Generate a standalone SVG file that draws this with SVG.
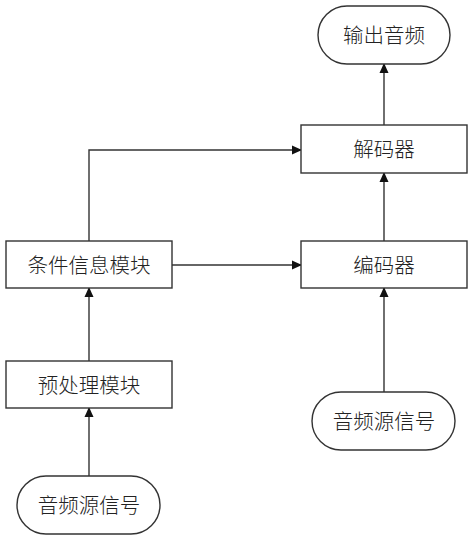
<svg xmlns="http://www.w3.org/2000/svg" width="474" height="541" viewBox="0 0 474 541">
<style>
.n{fill:#fff;stroke:#333;stroke-width:1.4}
.t{font-family:"Liberation Sans","Noto Sans CJK SC",sans-serif;font-size:20.5px;font-weight:300;fill:#222;text-anchor:middle;dominant-baseline:central}
.c{fill:none;stroke:#333;stroke-width:1.4}
</style>
<defs>
<marker id="a" markerWidth="10" markerHeight="10" refX="9" refY="5" orient="auto" markerUnits="userSpaceOnUse">
<path d="M0,0.5 L10,5 L0,9.5 Z" fill="#111"/>
</marker>
</defs>
<rect width="474" height="541" fill="#fff"/>
<g id="connectors">
<path class="c" d="M384,125 V64" marker-end="url(#a)"/>
<path class="c" d="M384,241 V173" marker-end="url(#a)"/>
<path class="c" d="M89,241 V150 H301" marker-end="url(#a)"/>
<path class="c" d="M172,265 H301" marker-end="url(#a)"/>
<path class="c" d="M89,361 V288" marker-end="url(#a)"/>
<path class="c" d="M89,476 V408" marker-end="url(#a)"/>
<path class="c" d="M384,392 V288" marker-end="url(#a)"/>
</g>
<g id="output"><rect class="n" x="318" y="6" width="132" height="58" rx="29"/><text class="t" x="384" y="35">输出音频</text></g>
<g id="decoder"><rect class="n" x="301" y="125" width="166" height="48"/><text class="t" x="384" y="149">解码器</text></g>
<g id="encoder"><rect class="n" x="301" y="241" width="166" height="47"/><text class="t" x="384" y="265">编码器</text></g>
<g id="condition"><rect class="n" x="6" y="241" width="166" height="47"/><text class="t" x="89" y="265">条件信息模块</text></g>
<g id="preprocess"><rect class="n" x="6" y="361" width="166" height="47"/><text class="t" x="89" y="385">预处理模块</text></g>
<g id="source-left"><rect class="n" x="17" y="476" width="143" height="58" rx="29"/><text class="t" x="89" y="505">音频源信号</text></g>
<g id="source-right"><rect class="n" x="312" y="392" width="143" height="58" rx="29"/><text class="t" x="384" y="421">音频源信号</text></g>
</svg>
